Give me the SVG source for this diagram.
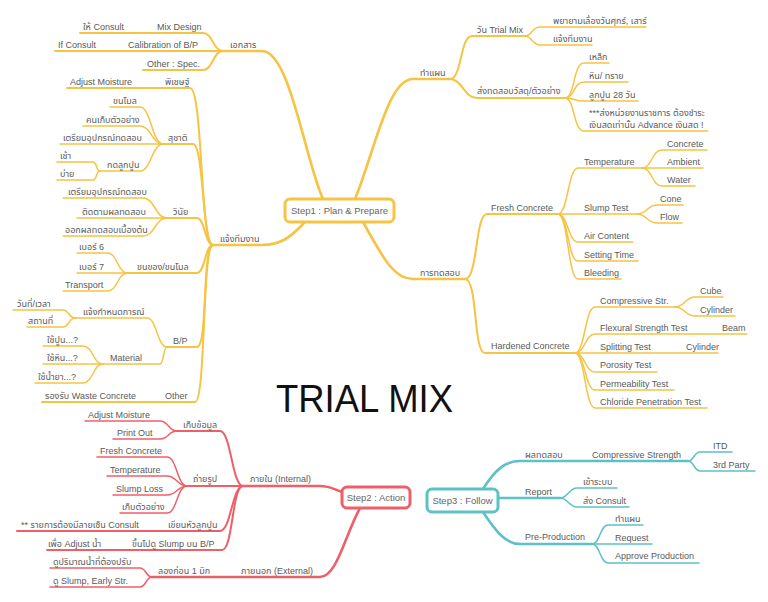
<svg xmlns="http://www.w3.org/2000/svg" width="768" height="602" viewBox="0 0 768 602">
<style>
text{font-family:"Liberation Sans","Noto Sans Thai","Noto Sans","DejaVu Sans",sans-serif;font-size:9px;fill:#5a5a5a}
.c{fill:none;stroke-linecap:round;stroke-linejoin:round}
.y{stroke:#F6C343}.r{stroke:#EF5F6A}.t{stroke:#5EC1C8}
.w1{stroke-width:2.6}.w2{stroke-width:2}.w3{stroke-width:1.5}
.box{fill:#fff;stroke-width:3}
.bt{font-size:9.5px;text-anchor:middle;fill:#666}
</style>
<rect width="768" height="602" fill="#fff"/>
<g id="connectors">
<!-- Step1 main -->
<path class="c y w1" d="M323,199 C305,160 290,51 262,51 H223"/>
<path class="c y w1" d="M355,199 C375,150 388,79 413,79 H450"/>
<path class="c y w1" d="M363,222 C385,262 395,279 413,279 H465"/>
<path class="c y w1" d="M305,222 C290,238 280,245 262,245 H213"/>
<!-- เอกสาร -->
<path class="c y w2" d="M223,51 C213,51 213,33 203,33 H80"/>
<path class="c y w2" d="M223,51 H55"/>
<path class="c y w2" d="M223,51 C213,51 213,70 203,70 H143"/>
<!-- ทำแผน -->
<path class="c y w2" d="M450,79 C462,79 460,36 472,36 H525"/>
<path class="c y w3" d="M525,36 C532,36 532,27 540,27 H646"/>
<path class="c y w3" d="M525,36 C532,36 532,45 540,45 H592"/>
<path class="c y w2" d="M450,79 C462,79 464,98 477,98 H565"/>
<path class="c y w3" d="M565,98 C575,98 573,63 584,63 H609"/>
<path class="c y w3" d="M565,98 C575,98 573,82 584,82 H628"/>
<path class="c y w3" d="M565,98 C575,98 573,101 584,101 H638"/>
<path class="c y w3" d="M565,98 C575,98 573,131 584,131 H708"/>
<!-- การทดสอบ -->
<path class="c y w2" d="M465,279 C478,279 475,214 487,214 H558"/>
<path class="c y w3" d="M558,214 C568,214 568,168 578,168 H642"/>
<path class="c y w3" d="M642,168 C652,168 652,150 662,150 H707"/>
<path class="c y w3" d="M642,168 H703"/>
<path class="c y w3" d="M642,168 C652,168 652,186 662,186 H695"/>
<path class="c y w3" d="M558,214 H637"/>
<path class="c y w3" d="M637,214 C647,214 647,205 657,205 H683"/>
<path class="c y w3" d="M637,214 C647,214 647,223 657,223 H682"/>
<path class="c y w3" d="M558,214 C568,214 568,242 578,242 H633"/>
<path class="c y w3" d="M558,214 C568,214 568,261 578,261 H638"/>
<path class="c y w3" d="M558,214 C568,214 568,279 578,279 H621"/>
<path class="c y w2" d="M465,279 C478,279 473,353 485,353 H575"/>
<path class="c y w3" d="M575,353 C585,353 585,307 595,307 H675"/>
<path class="c y w3" d="M675,307 C685,307 685,297 695,297 H723"/>
<path class="c y w3" d="M675,307 C685,307 685,316 695,316 H735"/>
<path class="c y w3" d="M575,353 C585,353 585,334 595,334 H747"/>
<path class="c y w3" d="M575,353 H718"/>
<path class="c y w3" d="M575,353 C585,353 585,372 595,372 H657"/>
<path class="c y w3" d="M575,353 C585,353 585,390 595,390 H674"/>
<path class="c y w3" d="M575,353 C585,353 585,408 595,408 H707"/>
<!-- แจ้งทีมงาน -->
<path class="c y w2" d="M213,245 C200,245 203,88 190,88 H67"/>
<path class="c y w2" d="M213,245 C202,245 204,144 193,144 H163"/>
<path class="c y w3" d="M163,144 C152,144 151,107 140,107 H110"/>
<path class="c y w3" d="M163,144 C152,144 151,126 140,126 H83"/>
<path class="c y w3" d="M163,144 H60"/>
<path class="c y w3" d="M163,144 C152,144 151,171 140,171 H100"/>
<path class="c y w3" d="M100,171 C96,171 97,162 93,162 H57"/>
<path class="c y w3" d="M100,171 C96,171 97,180 93,180 H57"/>
<path class="c y w2" d="M213,245 C205,245 205,218 197,218 H167"/>
<path class="c y w3" d="M167,218 C155,218 155,198 143,198 H63"/>
<path class="c y w3" d="M167,218 H77"/>
<path class="c y w3" d="M167,218 C155,218 155,236 143,236 H63"/>
<path class="c y w2" d="M213,245 C205,245 205,273 197,273 H128"/>
<path class="c y w3" d="M128,273 C117,273 118,253 107,253 H77"/>
<path class="c y w3" d="M128,273 H77"/>
<path class="c y w3" d="M128,273 C117,273 118,291 107,291 H63"/>
<path class="c y w2" d="M213,245 C202,245 208,347 197,347 H167"/>
<path class="c y w3" d="M167,347 C157,347 157,318 147,318 H75"/>
<path class="c y w3" d="M75,318 C69,318 69,310 63,310 H13"/>
<path class="c y w3" d="M75,318 C69,318 69,327 63,327 H27"/>
<path class="c y w3" d="M167,347 C163,347 164,364 160,364 H103"/>
<path class="c y w3" d="M103,364 C93,364 93,346 83,346 H43"/>
<path class="c y w3" d="M103,364 H43"/>
<path class="c y w3" d="M103,364 C93,364 93,383 83,383 H35"/>
<path class="c y w2" d="M213,245 C202,245 206,402 195,402 H42"/>
<!-- Step2 -->
<path class="c r w1" d="M342,492 C333,489 330,486 320,486 H243"/>
<path class="c r w1" d="M360,508 C345,535 337,577 320,577 H152"/>
<path class="c r w2" d="M243,486 C232,486 231,431 220,431 H177"/>
<path class="c r w3" d="M177,431 C168,431 169,421 160,421 H85"/>
<path class="c r w3" d="M177,431 C168,431 169,439 160,439 H113"/>
<path class="c r w2" d="M243,486 H187"/>
<path class="c r w3" d="M187,486 C177,486 177,457 167,457 H97"/>
<path class="c r w3" d="M187,486 C177,486 177,476 167,476 H107"/>
<path class="c r w3" d="M187,486 C177,486 177,495 167,495 H113"/>
<path class="c r w3" d="M187,486 C177,486 177,513 167,513 H120"/>
<path class="c r w2" d="M243,486 C232,486 231,531 220,531 H17"/>
<path class="c r w2" d="M243,486 C232,486 233,550 222,550 H47"/>
<path class="c r w3" d="M152,577 C146,577 146,568 140,568 H50"/>
<path class="c r w3" d="M152,577 C146,577 146,587 140,587 H50"/>
<!-- Step3 -->
<path class="c t w1" d="M483,489 C495,470 505,461 520,461 H688"/>
<path class="c t w3" d="M688,461 C694,461 694,452 700,452 H732"/>
<path class="c t w3" d="M688,461 C694,461 694,471 700,471 H755"/>
<path class="c t w1" d="M498,498 H560"/>
<path class="c t w3" d="M560,498 C568,498 569,488 577,488 H617"/>
<path class="c t w3" d="M560,498 C568,498 569,507 577,507 H629"/>
<path class="c t w1" d="M483,512 C495,530 505,544 520,544 H592"/>
<path class="c t w3" d="M592,544 C600,544 600,525 608,525 H643"/>
<path class="c t w3" d="M592,544 H652"/>
<path class="c t w3" d="M592,544 C600,544 600,563 608,563 H699"/>
</g>
<g id="step1"><rect class="box y" x="285" y="199" width="109" height="23" rx="5"/><text class="bt" x="339.5" y="214">Step1 : Plan &amp; Prepare</text></g>
<g id="step2"><rect class="box r" x="342" y="487" width="68" height="21" rx="5"/><text class="bt" x="376" y="501">Step2 : Action</text></g>
<g id="step3"><rect class="box t" x="427" y="489" width="71" height="23" rx="5"/><text class="bt" x="462.5" y="504">Step3 : Follow</text></g>
<g id="title"><text x="276" y="412" style="font-size:38px;fill:#111" textLength="177" lengthAdjust="spacingAndGlyphs">TRIAL MIX</text></g>
<g id="n-doc"><text x="230" y="48">เอกสาร</text><text x="157" y="30">Mix Design</text><text x="83" y="30">ให้ Consult</text><text x="128" y="48">Calibration of B/P</text><text x="58" y="48">If Consult</text><text x="147" y="67">Other : Spec.</text></g>
<g id="n-plan"><text x="420" y="76">ทำแผน</text><text x="477" y="33">วัน Trial Mix</text><text x="553" y="24">พยายามเลื่องวันศุกร์, เสาร์</text><text x="553" y="42">แจ้งทีมงาน</text><text x="477" y="94">ส่งทดสอบวัสดุ/ตัวอย่าง</text><text x="589" y="60">เหล็ก</text><text x="589" y="79">หิน/ ทราย</text><text x="589" y="98">ลูกปูน 28 วัน</text><text x="589" y="116">***ส่งหน่วยงานราชการ ต้องชำระ</text><text x="589" y="128">เงินสดเท่านั้น Advance เงินสด !</text></g>
<g id="n-test"><text x="420" y="276">การทดสอบ</text><text x="491" y="211">Fresh Concrete</text><text x="584" y="165">Temperature</text><text x="667" y="147">Concrete</text><text x="667" y="165">Ambient</text><text x="667" y="183">Water</text><text x="584" y="211">Slump Test</text><text x="660" y="202">Cone</text><text x="660" y="220">Flow</text><text x="584" y="239">Air Content</text><text x="584" y="258">Setting Time</text><text x="584" y="276">Bleeding</text>
<text x="491" y="349">Hardened Concrete</text><text x="600" y="304">Compressive Str.</text><text x="700" y="294">Cube</text><text x="700" y="313">Cylinder</text><text x="600" y="331">Flexural Strength Test</text><text x="722" y="331">Beam</text><text x="600" y="350">Splitting Test</text><text x="686" y="350">Cylinder</text><text x="600" y="368">Porosity Test</text><text x="600" y="387">Permeability Test</text><text x="600" y="405">Chloride Penetration Test</text></g>
<g id="n-team"><text x="220" y="242">แจ้งทีมงาน</text><text x="165" y="85">พิเชษฐ์</text><text x="70" y="85">Adjust Moisture</text><text x="168" y="141">สุชาติ</text><text x="113" y="104">ขนโมล</text><text x="86" y="123">คนเก็บตัวอย่าง</text><text x="63" y="141">เตรียมอุปกรณ์ทดสอบ</text><text x="107" y="168">กดลูกปูน</text><text x="60" y="159">เช้า</text><text x="60" y="177">บ่าย</text>
<text x="173" y="215">วินัย</text><text x="68" y="195">เตรียมอุปกรณ์ทดสอบ</text><text x="82" y="215">ติดตามผลทดสอบ</text><text x="65" y="233">ออกผลทดสอบเบื้องต้น</text><text x="137" y="270">ขนของ/ขนโมล</text><text x="79" y="250">เบอร์ 6</text><text x="79" y="270">เบอร์ 7</text><text x="65" y="288">Transport</text>
<text x="173" y="344">B/P</text><text x="83" y="315">แจ้งกำหนดการณ์</text><text x="17" y="307">วันที่/เวลา</text><text x="28" y="324">สถานที่</text><text x="110" y="361">Material</text><text x="47" y="343">ใช้ปูน...?</text><text x="47" y="361">ใช้หิน...?</text><text x="38" y="380">ใช้น้ำยา...?</text><text x="165" y="399">Other</text><text x="45" y="399">รองรับ Waste Concrete</text></g>
<g id="n-action"><text x="250" y="482">ภายใน (Internal)</text><text x="183" y="428">เก็บข้อมูล</text><text x="88" y="418">Adjust Moisture</text><text x="117" y="436">Print Out</text><text x="193" y="482">ถ่ายรูป</text><text x="100" y="454">Fresh Concrete</text><text x="110" y="473">Temperature</text><text x="116" y="492">Slump Loss</text><text x="122" y="510">เก็บตัวอย่าง</text><text x="168" y="528">เขียนหัวลูกปูน</text><text x="21" y="528">** รายการต้องมีลายเซ็น Consult</text><text x="132" y="547">ขึ้นไปดู Slump บน B/P</text><text x="48" y="547">เพื่อ Adjust น้ำ</text>
<text x="241" y="574">ภายนอก (External)</text><text x="158" y="574">ลองก่อน 1 มิก</text><text x="53" y="565">ดูปริมาณน้ำที่ต้องปรับ</text><text x="53" y="584">ดู Slump, Early Str.</text></g>
<g id="n-follow"><text x="525" y="458">ผลทดสอบ</text><text x="592" y="458">Compressive Strength</text><text x="713" y="449">ITD</text><text x="713" y="468">3rd Party</text><text x="525" y="495">Report</text><text x="583" y="485">เข้าระบบ</text><text x="583" y="504">ส่ง Consult</text><text x="525" y="540">Pre-Production</text><text x="615" y="522">ทำแผน</text><text x="615" y="541">Request</text><text x="615" y="559">Approve Production</text></g>
</svg>
